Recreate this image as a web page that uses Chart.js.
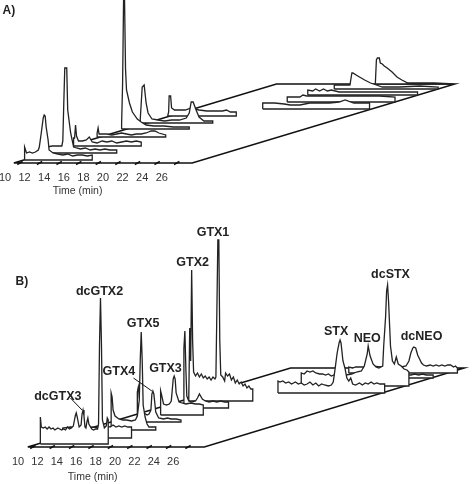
<!DOCTYPE html>
<html>
<head>
<meta charset="utf-8">
<title>Chromatograms</title>
<script src="https://cdn.jsdelivr.net/npm/chart.js@4"></script>
<style>
    html, body { margin: 0; padding: 0; background: #fff; }
    canvas { position: absolute; left: 0; }
    #chartA { top: 0; }
    #chartB { top: 222px; }
</style>
</head>
<body>
<canvas id="chartA" width="474" height="200"></canvas>
<canvas id="chartB" width="474" height="262"></canvas>
<script>
const tickMinutes = [10, 12, 14, 16, 18, 20, 22, 24, 26];

// panel A: retention time (min) and signal of each run, front to back
const timeA1 = [12,12,12.2,12.5,12.8,13.1,13.4,13.5,13.7,13.9,14,14.1,14.2,14.4,14.5,14.9,15.4,15.9,16.4,16.9,17.4,17.9,18.4,18.9,18.9];
const signalA1 = [0,13,7,8,7,8,10,13,27,42,45,44,33,20,10,7,6,5,6,4,5,5,4,5,0];
const timeA2 = [12,12,12.5,13.1,13.5,13.6,13.7,13.8,14,14.1,14.4,14.7,15,15.4,15.9,16.4,16.9,17.4,17.9,18.4,19.1,19.1];
const signalA2 = [0,6,7,7,7,12,50,85,85,43,20,6,5,4,5,3,4,3,4,3,3,0];
const timeA3 = [12,12,12.1,12.2,12.3,12.5,12.9,13.3,13.6,13.9,14.4,14.9,15.4,15.9,16.4,16.9,17.4,17.9,18.4,18.9,18.9];
const signalA3 = [0,8,8,21,10,5,5,6,9,4,3,5,4,5,3,4,5,4,5,4,0];
const timeA4 = [12,12,12.1,12.2,12.5,13,13.5,14,14.5,15,15.5,16,16.5,17,17.5,17.9,18.3,19,19];
const signalA4 = [0,4,9,3,3,3,2,3,4,3,2,3,3,4,6,6,4,2,0];
const timeA5 = [12,12,12.1,12.2,12.3,12.4,12.5,12.8,13.1,13.6,14,14.5,15.3,16.3,17.3,18.9,18.9];
const signalA5 = [0,5,45,129,129,60,39,26,17,10,7,4,3,3,2,2,0];
const timeA6 = [12,12,12.2,12.4,12.6,12.8,13.2,13.8,14.5,15.2,16,16.7,17,17.2,17.4,17.7,18,18.5,19.4,19.4];
const signalA6 = [0,3,36,38,20,10,4,3,2,3,3,5,10,21,21,13,6,2,2,0];
const timeA7 = [12,12.1,12.15,12.3,12.4,12.7,13.2,13.8,14.4,15.2,16,16.8,17.6,18,18.4,19,19];
const signalA7 = [0,4,20,20,8,6,6,6,8,6,5,5,5,6,4,4,0];
const timeA8 = [12,12,13.2,14.2,14.8,15.8,16.8,17.8,18.8,19.8,20.4,21.3,22.9,22.9];
const signalA8 = [0,6,6,5,4,4,6,6,6,7,9,6,6,0];
const timeA9 = [12,12,13.3,13.6,14,15.4,16.9,18.4,19.9,21.4,23,23];
const signalA9 = [0,5,5,7,6,6,6,6,6,6,5,0];
const timeA10 = [12,12,12.5,12.8,13.2,13.6,14,14.4,15.2,16.2,17.7,19.2,20.8,22.3,23.2,23.2];
const signalA10 = [0,5,4,6,4,6,4,5,3,3,3,3,3,3,3,0];
const timeA11 = [12,12,13.1,13.6,13.7,13.8,13.9,14.4,15.1,15.7,16.3,16.9,18.7,20.7,22.6,22.6];
const signalA11 = [0,4,4,4,10,16,16,13,9,6,4,2,2,3,2,0];
const timeA12 = [12,12,12.1,12.2,12.4,12.5,12.7,12.9,13.2,13.7,14.2,14.7,15.3,16.5,18,20];
const signalA12 = [0,2,24,26,26,21,20,18,16,12,7,4,1,1,1,0];
// how far each run is moved back along the depth axis
const shiftA = [0, 2.3, 5, 7.4, 9.9, 11.8, 14.6, 24.3, 26.8, 28.9, 31.6, 35.8];
const liftA = [3, 10, 17, 26, 34, 40, 47, 54, 61, 68, 74, 79];

// panel B
const timeB1 = [12,12,12.1,12.3,12.5,12.7,12.9,13.1,13.3,13.5,13.8,14,14.2,14.4,14.6,14.8,15,15.2,15.4,15.6,15.7,15.8,16,16.2,16.3,16.4,16.5,16.6,16.7,16.8,16.9,17,17.3,17.5,17.7,17.9,18,18.1,18.2,18.3,18.4,18.6,18.8,18.9,19,19];
const signalB1 = [0,27,17,16,17,15,17,15,16,14,16,15,14,15,14,17,15,16,18,28,31,27,17,19,30,34,28,17,16,22,26,20,15,14,15,15,20,100,146,100,24,16,18,26,24,0];
const timeB2 = [12,12,12.8,13.9,14.9,15.9,16.6,16.9,17.2,17.5,17.8,18.1,18.4,18.7,19.1,19.1];
const signalB2 = [0,10,11,10,11,10,12,11,13,11,12,11,12,11,11,0];
const timeB3 = [12,12,12.1,12.2,12.4,12.8,13.2,13.6,14.1,14.5,14.7,14.9,15,15.1,15.2,15.3,15.5,15.7,15.9,16.2,16.6,16.6];
const signalB3 = [0,37,33,20,14,11,10,10,9,10,14,30,70,98,70,25,13,6,3,3,3,0];
const timeB4 = [12,12,12.1,12.2,12.4,12.7,13,13.2,13.4,13.5,13.6,13.7,13.9,14.2,14.7,15.1,15.5,16,16.5,16.5];
const signalB4 = [0,30,35,25,12,9,7,8,12,28,31,28,10,4,3,4,3,3,2,0];
const timeB5 = [12,12,12.1,12.3,12.6,12.9,13.1,13.2,13.3,13.4,13.5,13.6,13.9,14.2,14.6,15.1,15.6,16,16.4,16.4];
const signalB5 = [0,24,20,11,10,11,14,25,36,39,36,22,13,12,11,12,11,11,10,0];
const timeB6 = [12,12,12.1,12.2,12.3,12.5,12.8,13.2,13.4,13.6,13.9,14.2,14.6,15,15.4,15.8,16.2,16.6,16.6];
const signalB6 = [0,60,77,40,12,7,6,7,10,14,9,7,6,7,6,7,6,6,0];
const timeB7 = [12,12.1,12.2,12.3,12.4,12.5,12.7,12.9,13.1,13.3,13.5,13.7,13.9,14.1,14.3,14.5,14.7,14.8,14.9,15,15.1,15.2,15.3,15.5,15.7,15.8,16,16.2,16.4,16.6,16.8,17,17.2,17.4,17.6,17.8,18,18.2,18.4,18.6,18.6];
const signalB7 = [0,73,40,131,60,29,25,28,24,27,23,25,22,24,21,24,22,24,90,161,161,60,26,24,20,28,25,27,21,24,18,21,17,19,15,17,13,15,12,12,0];
const timeB8 = [12,12,12.2,12.5,12.8,13.1,13.4,13.8,14.1,14.4,14.7,15,15.3,15.6,15.9,16.2,16.5,16.8,17.2,17.5,17.7,17.9,18.1,18.3,18.4,18.5,18.7,18.9,19.1,19.3,19.5,19.7,20,20.4,20.7,21,21.3,21.6,21.9,22.2,22.5,22.8,23,23];
const signalB8 = [0,12,11,12,10,11,9,11,9,10,8,9,11,8,10,7,9,8,7,8,11,25,40,50,53,50,32,25,15,12,15,9,8,10,8,10,9,11,9,10,9,9,9,0];
const timeB9 = [12,12,12.3,12.6,12.9,13.2,13.5,13.9,14.2,14.5,14.8,15.1,15.4,15.7,16.1,16.6,17.2,17.7,18.2,18.5,18.8,18.9,19.1,19.4,19.7,20,20.4,20.5,20.7,20.8,20.9,21,21.2,21.4,21.6,21.8,22,22.3,22.6,22.9,23.1,23.1];
const signalB9 = [0,13,12,15,14,15,13,12,12,11,12,10,11,11,11,11,12,14,15,20,32,40,30,22,19,18,20,40,70,95,101,85,40,25,22,29,22,20,17,16,14,0];
const timeB10 = [12,12,18.7,19.2,19.6,20,20.4,20.8,21.1,21.5,21.5];
const signalB10 = [0,3,3,3,4,3,4,3,3,3,0];
const timeB11 = [12,12,12.4,12.7,13.4,14.3,15.3,16.3,17.4,17.9,18.2,18.4,18.6,18.7,18.9,19.1,19.3,19.5,19.7,20,20.4,20.7,21,21.3,21.6,21.9,22.2,22.5,22.8,23,23.2,23.2];
const signalB11 = [0,6,5,6,6,7,6,7,6,7,12,20,25,26,25,18,14,10,8,7,8,7,8,7,8,7,8,8,6,7,5,0];
const shiftB = [0.3, 2.6, 7.6, 10.3, 12.7, 15.1, 15.6, 24.8, 27.2, 31.3, 32.1];
const liftB = [3, 9, 17, 25, 32, 39, 46, 54, 61, 69, 74];

// the sloping floor under the runs
const floorTimeA = [10.9, 29.1, 55.9, 37.7, 10.9];
const floorTimeB = [11, 29.2, 56, 38.1, 11];
const floorSignal = [0, 0, 79, 79, 0];

// names on the peaks
const nameB = ["GTX1", "GTX2", "dcGTX2", "GTX5", "GTX4", "GTX3", "dcGTX3", "STX", "NEO", "dcSTX", "dcNEO"];
const nameTimeB = [30.1, 28, 18.4, 22.9, 20.4, 25.2, 14.1, 42.8, 46, 48.4, 51.6];
const nameSignalB = [214, 184, 155, 123, 75, 78, 50, 115, 108, 172, 110];
const leaderTimeB = [21.9, 23.8, null, 15.4, 16.6];
const leaderSignalB = [69, 56, null, 49, 37];

function runDataset(time, signal, shift, lift) {
    const points = time.map((t, i) => ({ x: t + shift, y: signal[i] + lift }));
    points.push(points[0]); // close the box under the trace
    return {
        data: points,
        showLine: true,
        fill: "shape",
        backgroundColor: "#fff",
        borderColor: "#222",
        borderWidth: 1.3,
        pointRadius: 0,
        tension: 0,
        clip: false
    };
}

function plainLine(points, width) {
    return {
        data: points,
        showLine: true,
        fill: false,
        borderColor: "#111",
        borderWidth: width,
        pointRadius: 0,
        tension: 0,
        clip: false
    };
}

function tickDashes() {
    const points = [];
    tickMinutes.forEach(t => {
        points.push({ x: t + 1.25, y: -1.5 });
        points.push({ x: t + 1.8, y: 1.5 });
        points.push({ x: t + 1.8, y: null });
    });
    return plainLine(points, 1.5);
}

const textPlugin = {
    id: "chartText",
    afterDatasetsDraw(chart, args, opts) {
        const ctx = chart.ctx;
        const xs = chart.scales.x;
        const ys = chart.scales.y;
        ctx.save();
        ctx.textAlign = "center";
        ctx.textBaseline = "middle";
        ctx.fillStyle = "#222";
        ctx.font = "bold 12.5px 'Liberation Sans'";
        opts.names.forEach((n, i) => {
            ctx.fillText(n, xs.getPixelForValue(opts.nameTimes[i]), ys.getPixelForValue(opts.nameSignals[i]));
        });
        ctx.font = "bold 12px 'Liberation Sans'";
        ctx.fillText(opts.panel, xs.getPixelForValue(opts.panelTime), ys.getPixelForValue(opts.panelSignal));
        ctx.fillStyle = "#333";
        ctx.font = "10.5px 'Liberation Sans'";
        ctx.fillText("Time (min)", xs.getPixelForValue(opts.titleTime), ys.getPixelForValue(opts.titleSignal));
        ctx.restore();
    }
};

function makeChart(id, datasets, xMin, xMax, yMax, text) {
    return new Chart(document.getElementById(id), {
        type: "scatter",
        data: { datasets: datasets },
        plugins: [textPlugin],
        options: {
            responsive: false,
            animation: false,
            layout: { padding: 0 },
            plugins: {
                legend: { display: false },
                tooltip: { enabled: false },
                filler: { drawTime: "beforeDatasetDraw" },
                chartText: text
            },
            scales: {
                x: {
                    type: "linear",
                    min: xMin,
                    max: xMax,
                    grid: { display: false },
                    border: { display: false },
                    afterBuildTicks: s => { s.ticks = tickMinutes.map(v => ({ value: v })); },
                    afterFit: s => { s.height = 37; s.paddingLeft = 0; s.paddingRight = 0; },
                    ticks: {
                        autoSkip: false,
                        maxRotation: 0,
                        padding: 0,
                        color: "#333",
                        font: { family: "'Liberation Sans'", size: 11 }
                    }
                },
                y: { display: false, min: 0, max: yMax }
            }
        }
    });
}

const runsA = [
    runDataset(timeA1, signalA1, shiftA[0], liftA[0]),
    runDataset(timeA2, signalA2, shiftA[1], liftA[1]),
    runDataset(timeA3, signalA3, shiftA[2], liftA[2]),
    runDataset(timeA4, signalA4, shiftA[3], liftA[3]),
    runDataset(timeA5, signalA5, shiftA[4], liftA[4]),
    runDataset(timeA6, signalA6, shiftA[5], liftA[5]),
    runDataset(timeA7, signalA7, shiftA[6], liftA[6]),
    runDataset(timeA8, signalA8, shiftA[7], liftA[7]),
    runDataset(timeA9, signalA9, shiftA[8], liftA[8]),
    runDataset(timeA10, signalA10, shiftA[9], liftA[9]),
    runDataset(timeA11, signalA11, shiftA[10], liftA[10]),
    runDataset(timeA12, signalA12, shiftA[11], liftA[11])
];

const runsB = [
    runDataset(timeB1, signalB1, shiftB[0], liftB[0]),
    runDataset(timeB2, signalB2, shiftB[1], liftB[1]),
    runDataset(timeB3, signalB3, shiftB[2], liftB[2]),
    runDataset(timeB4, signalB4, shiftB[3], liftB[3]),
    runDataset(timeB5, signalB5, shiftB[4], liftB[4]),
    runDataset(timeB6, signalB6, shiftB[5], liftB[5]),
    runDataset(timeB7, signalB7, shiftB[6], liftB[6]),
    runDataset(timeB8, signalB8, shiftB[7], liftB[7]),
    runDataset(timeB9, signalB9, shiftB[8], liftB[8]),
    runDataset(timeB10, signalB10, shiftB[9], liftB[9]),
    runDataset(timeB11, signalB11, shiftB[10], liftB[10])
];

const floorA = plainLine(floorTimeA.map((t, i) => ({ x: t, y: floorSignal[i] })), 1.5);
const floorB = plainLine(floorTimeB.map((t, i) => ({ x: t, y: floorSignal[i] })), 1.5);
const leaders = plainLine(leaderTimeB.map((t, i) => ({ x: t, y: leaderSignalB[i] })), 1);

// chart.js paints the first dataset last, so the front run goes first
makeChart("chartA", [tickDashes(), ...runsA, floorA], 9.49, 57.86, 163, {
    names: [], nameTimes: [], nameSignals: [],
    panel: "A)", panelTime: 10.4, panelSignal: 152,
    titleTime: 17.4, titleSignal: -28
});

makeChart("chartB", [leaders, tickDashes(), ...runsB, floorB], 8.14, 57.01, 225, {
    names: nameB, nameTimes: nameTimeB, nameSignals: nameSignalB,
    panel: "B)", panelTime: 10.4, panelSignal: 165,
    titleTime: 17.7, titleSignal: -30
});
</script>
</body>
</html>
